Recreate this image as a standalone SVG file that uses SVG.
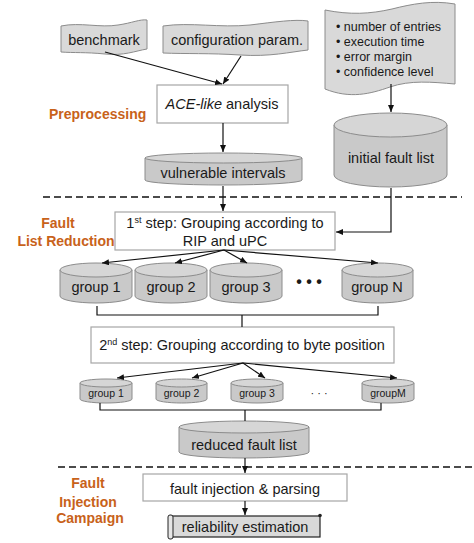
<svg xmlns="http://www.w3.org/2000/svg" width="474" height="543" viewBox="0 0 474 543">
<defs>
<marker id="ah" markerWidth="7" markerHeight="6" refX="7" refY="3" orient="auto" markerUnits="userSpaceOnUse"><path d="M0,0 L7,3 L0,6 z" fill="#111"/></marker>
<style>
text{font-family:"Liberation Sans",Arial,sans-serif;fill:#1a1a1a}
.t14{font-size:14.5px}
.t12{font-size:12.5px}
.t10{font-size:10.5px}
.lab{font-size:14px;font-weight:bold;fill:#c8621a}
.doc{fill:#d9d9d9;stroke:#8c8c8c;stroke-width:1}
.cyl{fill:#c9c9c9;stroke:#8c8c8c;stroke-width:1}
.cyltop{fill:#d6d6d6;stroke:#8c8c8c;stroke-width:1}
.box{fill:#fff;stroke:#a6a6a6;stroke-width:1.2}
.ln{fill:none;stroke:#111;stroke-width:1.2}
.arr{fill:none;stroke:#111;stroke-width:1.2;marker-end:url(#ah)}
.dash{fill:none;stroke:#111;stroke-width:1.5;stroke-dasharray:7,4}
</style>
</defs>

<g id="labels">
<text class="lab" x="49" y="119">Preprocessing</text>
<text class="lab" x="58" y="228" text-anchor="middle">Fault</text>
<text class="lab" x="66" y="246" text-anchor="middle">List Reduction</text>
<text class="lab" x="88" y="488" text-anchor="middle">Fault</text>
<text class="lab" x="88" y="507" text-anchor="middle">Injection</text>
<text class="lab" x="90" y="523" text-anchor="middle">Campaign</text>
</g>

<g id="separators">
<line class="dash" x1="43" y1="197" x2="462" y2="197"/>
<line class="dash" x1="58" y1="467" x2="474" y2="467"/>
</g>

<g id="benchmark">
<path class="doc" d="M61,26 C80,22 100,28 118,25 C132,23 140,19 147,20 L147,49 C135,51 124,56 105,54 C85,52 74,53 61,52 Z"/>
<text class="t14" x="104" y="45" text-anchor="middle">benchmark</text>
</g>

<g id="config">
<path class="doc" d="M163,26 C190,22 220,28 250,25 C275,22 295,19 308,21 L308,50 C290,52 270,57 240,55 C210,53 185,54 163,53 Z"/>
<text class="t14" x="237" y="45" text-anchor="middle">configuration param.</text>
</g>

<g id="params">
<path class="doc" d="M325,10 C350,15 370,14 392,9 C412,4 432,0 455,4 L455,84 C432,82 410,80 390,87 C370,94 350,99 325,89 Z"/>
<text class="t12" x="336" y="31">• number of entries</text>
<text class="t12" x="336" y="46">• execution time</text>
<text class="t12" x="336" y="61">• error margin</text>
<text class="t12" x="336" y="76">• confidence level</text>
</g>

<g id="ace">
<rect class="box" x="157" y="85" width="131" height="38"/>
<text class="t14" x="222" y="109" text-anchor="middle"><tspan font-style="italic">ACE-like</tspan> analysis</text>
</g>

<g id="vulnerable">
<path class="cyl" d="M145,158 L145,180 A78.5,5 0 0 0 302,180 L302,158 Z"/>
<ellipse class="cyltop" cx="223.5" cy="158" rx="78.5" ry="5"/>
<text class="t14" x="223" y="178" text-anchor="middle">vulnerable intervals</text>
</g>

<g id="initial">
<path class="cyl" d="M334,125 L334,175 A56.5,12 0 0 0 447,175 L447,125 Z"/>
<ellipse class="cyltop" cx="390.5" cy="125" rx="56.5" ry="12"/>
<text class="t14" x="391" y="163" text-anchor="middle">initial fault list</text>
</g>

<g id="step1">
<rect class="box" x="115" y="212" width="220" height="38"/>
<text class="t14" x="225" y="228" text-anchor="middle">1<tspan font-size="9" dy="-5">st</tspan><tspan dy="5"> step: Grouping according to</tspan></text>
<text class="t14" x="225" y="246" text-anchor="middle">RIP and uPC</text>
</g>

<g id="g1">
<path class="cyl" d="M60,270 L60,296 A36,7 0 0 0 132,296 L132,270 Z"/>
<ellipse class="cyltop" cx="96" cy="270" rx="36" ry="7"/>
<text class="t14" x="96" y="292" text-anchor="middle">group 1</text>
</g>
<g id="g2">
<path class="cyl" d="M135,270 L135,296 A36,7 0 0 0 207,296 L207,270 Z"/>
<ellipse class="cyltop" cx="171" cy="270" rx="36" ry="7"/>
<text class="t14" x="171" y="292" text-anchor="middle">group 2</text>
</g>
<g id="g3">
<path class="cyl" d="M210,270 L210,296 A36,7 0 0 0 282,296 L282,270 Z"/>
<ellipse class="cyltop" cx="246" cy="270" rx="36" ry="7"/>
<text class="t14" x="246" y="292" text-anchor="middle">group 3</text>
</g>
<g id="gdots">
<text x="309" y="287" text-anchor="middle" font-size="16" font-weight="bold">• • •</text>
</g>
<g id="gN">
<path class="cyl" d="M342,270 L342,296 A35.5,7 0 0 0 413,296 L413,270 Z"/>
<ellipse class="cyltop" cx="377.5" cy="270" rx="35.5" ry="7"/>
<text class="t14" x="377" y="292" text-anchor="middle">group N</text>
</g>

<g id="step2">
<rect class="box" x="91" y="327" width="303" height="36"/>
<text class="t14" x="242" y="350" text-anchor="middle">2<tspan font-size="9" dy="-5">nd</tspan><tspan dy="5"> step: Grouping according to byte position</tspan></text>
</g>

<g id="s1">
<path class="cyl" d="M80,383 L80,399 A26,4 0 0 0 132,399 L132,383 Z"/>
<ellipse class="cyltop" cx="106" cy="383" rx="26" ry="4"/>
<text class="t10" x="106" y="397" text-anchor="middle">group 1</text>
</g>
<g id="s2">
<path class="cyl" d="M156,383 L156,399 A25.5,4 0 0 0 207,399 L207,383 Z"/>
<ellipse class="cyltop" cx="181.5" cy="383" rx="25.5" ry="4"/>
<text class="t10" x="181.5" y="397" text-anchor="middle">group 2</text>
</g>
<g id="s3">
<path class="cyl" d="M231,383 L231,399 A26,4 0 0 0 283,399 L283,383 Z"/>
<ellipse class="cyltop" cx="257" cy="383" rx="26" ry="4"/>
<text class="t10" x="257" y="397" text-anchor="middle">group 3</text>
</g>
<g id="sdots">
<text x="319" y="397" text-anchor="middle" font-size="11">· · ·</text>
</g>
<g id="sM">
<path class="cyl" d="M362,383 L362,399 A26,4 0 0 0 414,399 L414,383 Z"/>
<ellipse class="cyltop" cx="388" cy="383" rx="26" ry="4"/>
<text class="t10" x="388" y="397" text-anchor="middle">groupM</text>
</g>

<g id="reduced">
<path class="cyl" d="M179,427 L179,452 A65,6 0 0 0 309,452 L309,427 Z"/>
<ellipse class="cyltop" cx="244" cy="427" rx="65" ry="6"/>
<text class="t14" x="244" y="450" text-anchor="middle">reduced fault list</text>
</g>

<g id="inject">
<rect class="box" x="143" y="474" width="204" height="27"/>
<text class="t14" x="245" y="494" text-anchor="middle">fault injection &amp; parsing</text>
</g>

<g id="reliability">
<rect x="171" y="516" width="149" height="21" fill="#d9d9d9" stroke="#222" stroke-width="1.2"/>
<rect x="168" y="515" width="5" height="24" rx="2" fill="#e6e6e6" stroke="#222" stroke-width="1"/>
<circle cx="320" cy="515.5" r="1.8" fill="#222"/>
<text class="t14" x="245" y="532" text-anchor="middle">reliability estimation</text>
</g>

<g id="connectors">
<path class="arr" d="M105,52 L222,84"/>
<path class="arr" d="M241,56 L223,84"/>
<path class="arr" d="M223,123 L223,152"/>
<path class="arr" d="M391,84 L391,112"/>
<path class="arr" d="M223,186 L223,211"/>
<path class="arr" d="M391,188 L391,232 L336,232"/>
<path class="arr" d="M224,250 L102,263"/>
<path class="arr" d="M224,250 L175,263"/>
<path class="arr" d="M224,250 L247,263"/>
<path class="arr" d="M224,250 L378,263"/>
<path class="ln" d="M97,306 L97,315 L378,315 L378,306 M242,315 L242,327"/>
<path class="arr" d="M243,363 L117,378"/>
<path class="arr" d="M243,363 L192,378"/>
<path class="arr" d="M243,363 L265,378"/>
<path class="arr" d="M243,363 L397,378"/>
<path class="ln" d="M100,403 L100,410 L381,410 L381,403 M245,410 L245,421"/>
<path class="arr" d="M245,458 L245,473"/>
<path class="arr" d="M245,501 L245,515"/>
</g>
</svg>
